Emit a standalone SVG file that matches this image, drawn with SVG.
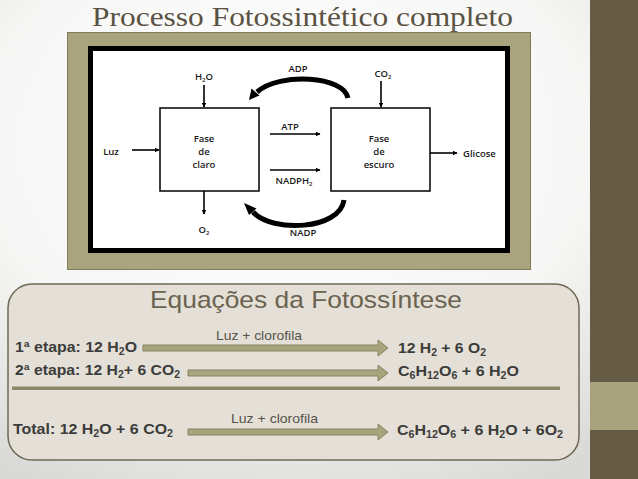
<svg xmlns="http://www.w3.org/2000/svg" width="638" height="479" viewBox="0 0 638 479">
<defs>
<radialGradient id="bg" cx="0.45" cy="0.3" r="0.8">
<stop offset="0" stop-color="#ffffff"/>
<stop offset="0.6" stop-color="#f6f6f5"/>
<stop offset="1" stop-color="#d9d9d7"/>
</radialGradient>
<marker id="ah" viewBox="0 0 10 10" refX="9" refY="5" markerWidth="5" markerHeight="5" orient="auto" markerUnits="userSpaceOnUse">
<path d="M0,0 L10,5 L0,10 Z" fill="#000"/>
</marker>
<style>
.lbl{font-family:"Open Sans","Liberation Sans",sans-serif;font-weight:600;font-size:9.5px;fill:#1a1a1a;text-anchor:middle}
.box{fill:#fff;stroke:#111;stroke-width:1.6}
.thin{stroke:#000;stroke-width:1.6;fill:none;marker-end:url(#ah)}
.arc{stroke:#000;stroke-width:5;fill:none}
.eq{font-family:"Liberation Sans",Arial,sans-serif;font-weight:bold;font-size:15px;fill:#3c3c3a}
.sub{font-size:10px}
.cat{font-family:"Liberation Sans",Arial,sans-serif;font-size:13px;fill:#57524a}
.garrow{fill:#a8a47d;stroke:#878260;stroke-width:1}
</style>
</defs>
<rect x="0" y="0" width="638" height="479" fill="url(#bg)"/>
<rect x="590" y="0" width="48" height="479" fill="#665c45"/>
<rect x="590" y="382" width="48" height="48" fill="#a8a27c"/>

<text x="92" y="26" font-family="'Liberation Serif','Times New Roman',serif" font-size="28" fill="#5a5242" textLength="421" lengthAdjust="spacingAndGlyphs">Processo Fotossintético completo</text>

<g id="frame">
<line x1="453" y1="26" x2="453" y2="32" stroke="#7f7a5c" stroke-width="1"/>
<rect x="67.5" y="32.5" width="463" height="237" fill="#a9a47e" stroke="#7f7a5c" stroke-width="1"/>
<rect x="90.5" y="48.5" width="417" height="202" fill="#ffffff" stroke="#000" stroke-width="5"/>
</g>

<g id="fase-claro">
<rect class="box" x="160" y="108" width="99" height="83"/>
<text class="lbl" x="204" y="142">Fase</text>
<text class="lbl" x="204" y="155">de</text>
<text class="lbl" x="204" y="168">claro</text>
</g>
<g id="fase-escuro">
<rect class="box" x="331" y="108" width="99" height="83"/>
<text class="lbl" x="379" y="142">Fase</text>
<text class="lbl" x="379" y="155">de</text>
<text class="lbl" x="379" y="168">escuro</text>
</g>
<g id="h2o"><text class="lbl" x="204" y="80">H<tspan font-size="6" dy="2">2</tspan><tspan dy="-2">O</tspan></text></g>
<g id="o2"><text class="lbl" x="204" y="233">O<tspan font-size="6" dy="2">2</tspan></text></g>
<g id="luz"><text class="lbl" x="111" y="155">Luz</text></g>
<g id="co2"><text class="lbl" x="383" y="77">CO<tspan font-size="6" dy="2">2</tspan></text></g>
<g id="glicose"><text class="lbl" x="463" y="157" style="text-anchor:start">Glicose</text></g>
<g id="atp"><text class="lbl" x="290" y="130">ATP</text></g>
<g id="nadph2"><text class="lbl" x="294" y="184">NADPH<tspan font-size="6" dy="2">2</tspan></text></g>
<g id="adp"><text class="lbl" x="298" y="72">ADP</text></g>
<g id="nadp"><text class="lbl" x="303" y="236">NADP</text></g>

<g id="connectors">
<line class="thin" x1="204" y1="85" x2="204" y2="107"/>
<line class="thin" x1="204" y1="191" x2="204" y2="214"/>
<line class="thin" x1="132" y1="150" x2="159" y2="150"/>
<line class="thin" x1="381" y1="81" x2="381" y2="107"/>
<line class="thin" x1="430" y1="153" x2="457" y2="153"/>
<line class="thin" x1="270" y1="134" x2="320" y2="134"/>
<line class="thin" x1="270" y1="170" x2="320" y2="170"/>
<path class="arc" d="M348 98 C344 76 280 72 257 92"/>
<path d="M249 100 L259.5 95.5 L251.5 88.5 Z" fill="#000"/>
<path class="arc" d="M344 200 C340 230 272 233 253 212"/>
<path d="M244 203 L256.5 208.5 L249 215 Z" fill="#000"/>
</g>

<g id="equacoes">
<rect x="8" y="284" width="571" height="176" rx="24" ry="24" fill="#e4e0d7" stroke="#6e6954" stroke-width="1.5"/>
<text x="150" y="308" font-family="'Liberation Sans',Arial,sans-serif" font-size="24" fill="#6b6350" textLength="312" lengthAdjust="spacingAndGlyphs">Equações da Fotossíntese</text>

<text class="cat" x="216" y="340" textLength="86" lengthAdjust="spacingAndGlyphs">Luz + clorofila</text>
<text class="cat" x="231" y="423" textLength="87" lengthAdjust="spacingAndGlyphs">Luz + clorofila</text>

<text class="eq" x="15" y="352" textLength="122" lengthAdjust="spacingAndGlyphs">1ª etapa: 12 H<tspan class="sub" dy="3">2</tspan><tspan dy="-3">O</tspan></text>
<text class="eq" x="15" y="375" textLength="165" lengthAdjust="spacingAndGlyphs">2ª etapa: 12 H<tspan class="sub" dy="3">2</tspan><tspan dy="-3">+ 6 CO</tspan><tspan class="sub" dy="3">2</tspan></text>
<text class="eq" x="13" y="434" textLength="160" lengthAdjust="spacingAndGlyphs">Total: 12 H<tspan class="sub" dy="3">2</tspan><tspan dy="-3">O + 6 CO</tspan><tspan class="sub" dy="3">2</tspan></text>

<text class="eq" x="398" y="353" textLength="88" lengthAdjust="spacingAndGlyphs">12 H<tspan class="sub" dy="3">2</tspan><tspan dy="-3"> + 6 O</tspan><tspan class="sub" dy="3">2</tspan></text>
<text class="eq" x="398" y="376" textLength="121" lengthAdjust="spacingAndGlyphs">C<tspan class="sub" dy="3">6</tspan><tspan dy="-3">H</tspan><tspan class="sub" dy="3">12</tspan><tspan dy="-3">O</tspan><tspan class="sub" dy="3">6</tspan><tspan dy="-3"> + 6 H</tspan><tspan class="sub" dy="3">2</tspan><tspan dy="-3">O</tspan></text>
<text class="eq" x="397" y="435" textLength="166" lengthAdjust="spacingAndGlyphs">C<tspan class="sub" dy="3">6</tspan><tspan dy="-3">H</tspan><tspan class="sub" dy="3">12</tspan><tspan dy="-3">O</tspan><tspan class="sub" dy="3">6</tspan><tspan dy="-3"> + 6 H</tspan><tspan class="sub" dy="3">2</tspan><tspan dy="-3">O + 6O</tspan><tspan class="sub" dy="3">2</tspan></text>

<path class="garrow" d="M143 345 L378 345 L378 340 L388 348 L378 356 L378 351 L143 351 Z"/>
<path class="garrow" d="M188 370 L378 370 L378 365 L388 373 L378 381 L378 376 L188 376 Z"/>
<path class="garrow" d="M188 429 L378 429 L378 424 L388 432 L378 440 L378 435 L188 435 Z"/>
<rect x="12" y="386.5" width="548" height="3.5" fill="#8c8766"/>
</g>
</svg>
